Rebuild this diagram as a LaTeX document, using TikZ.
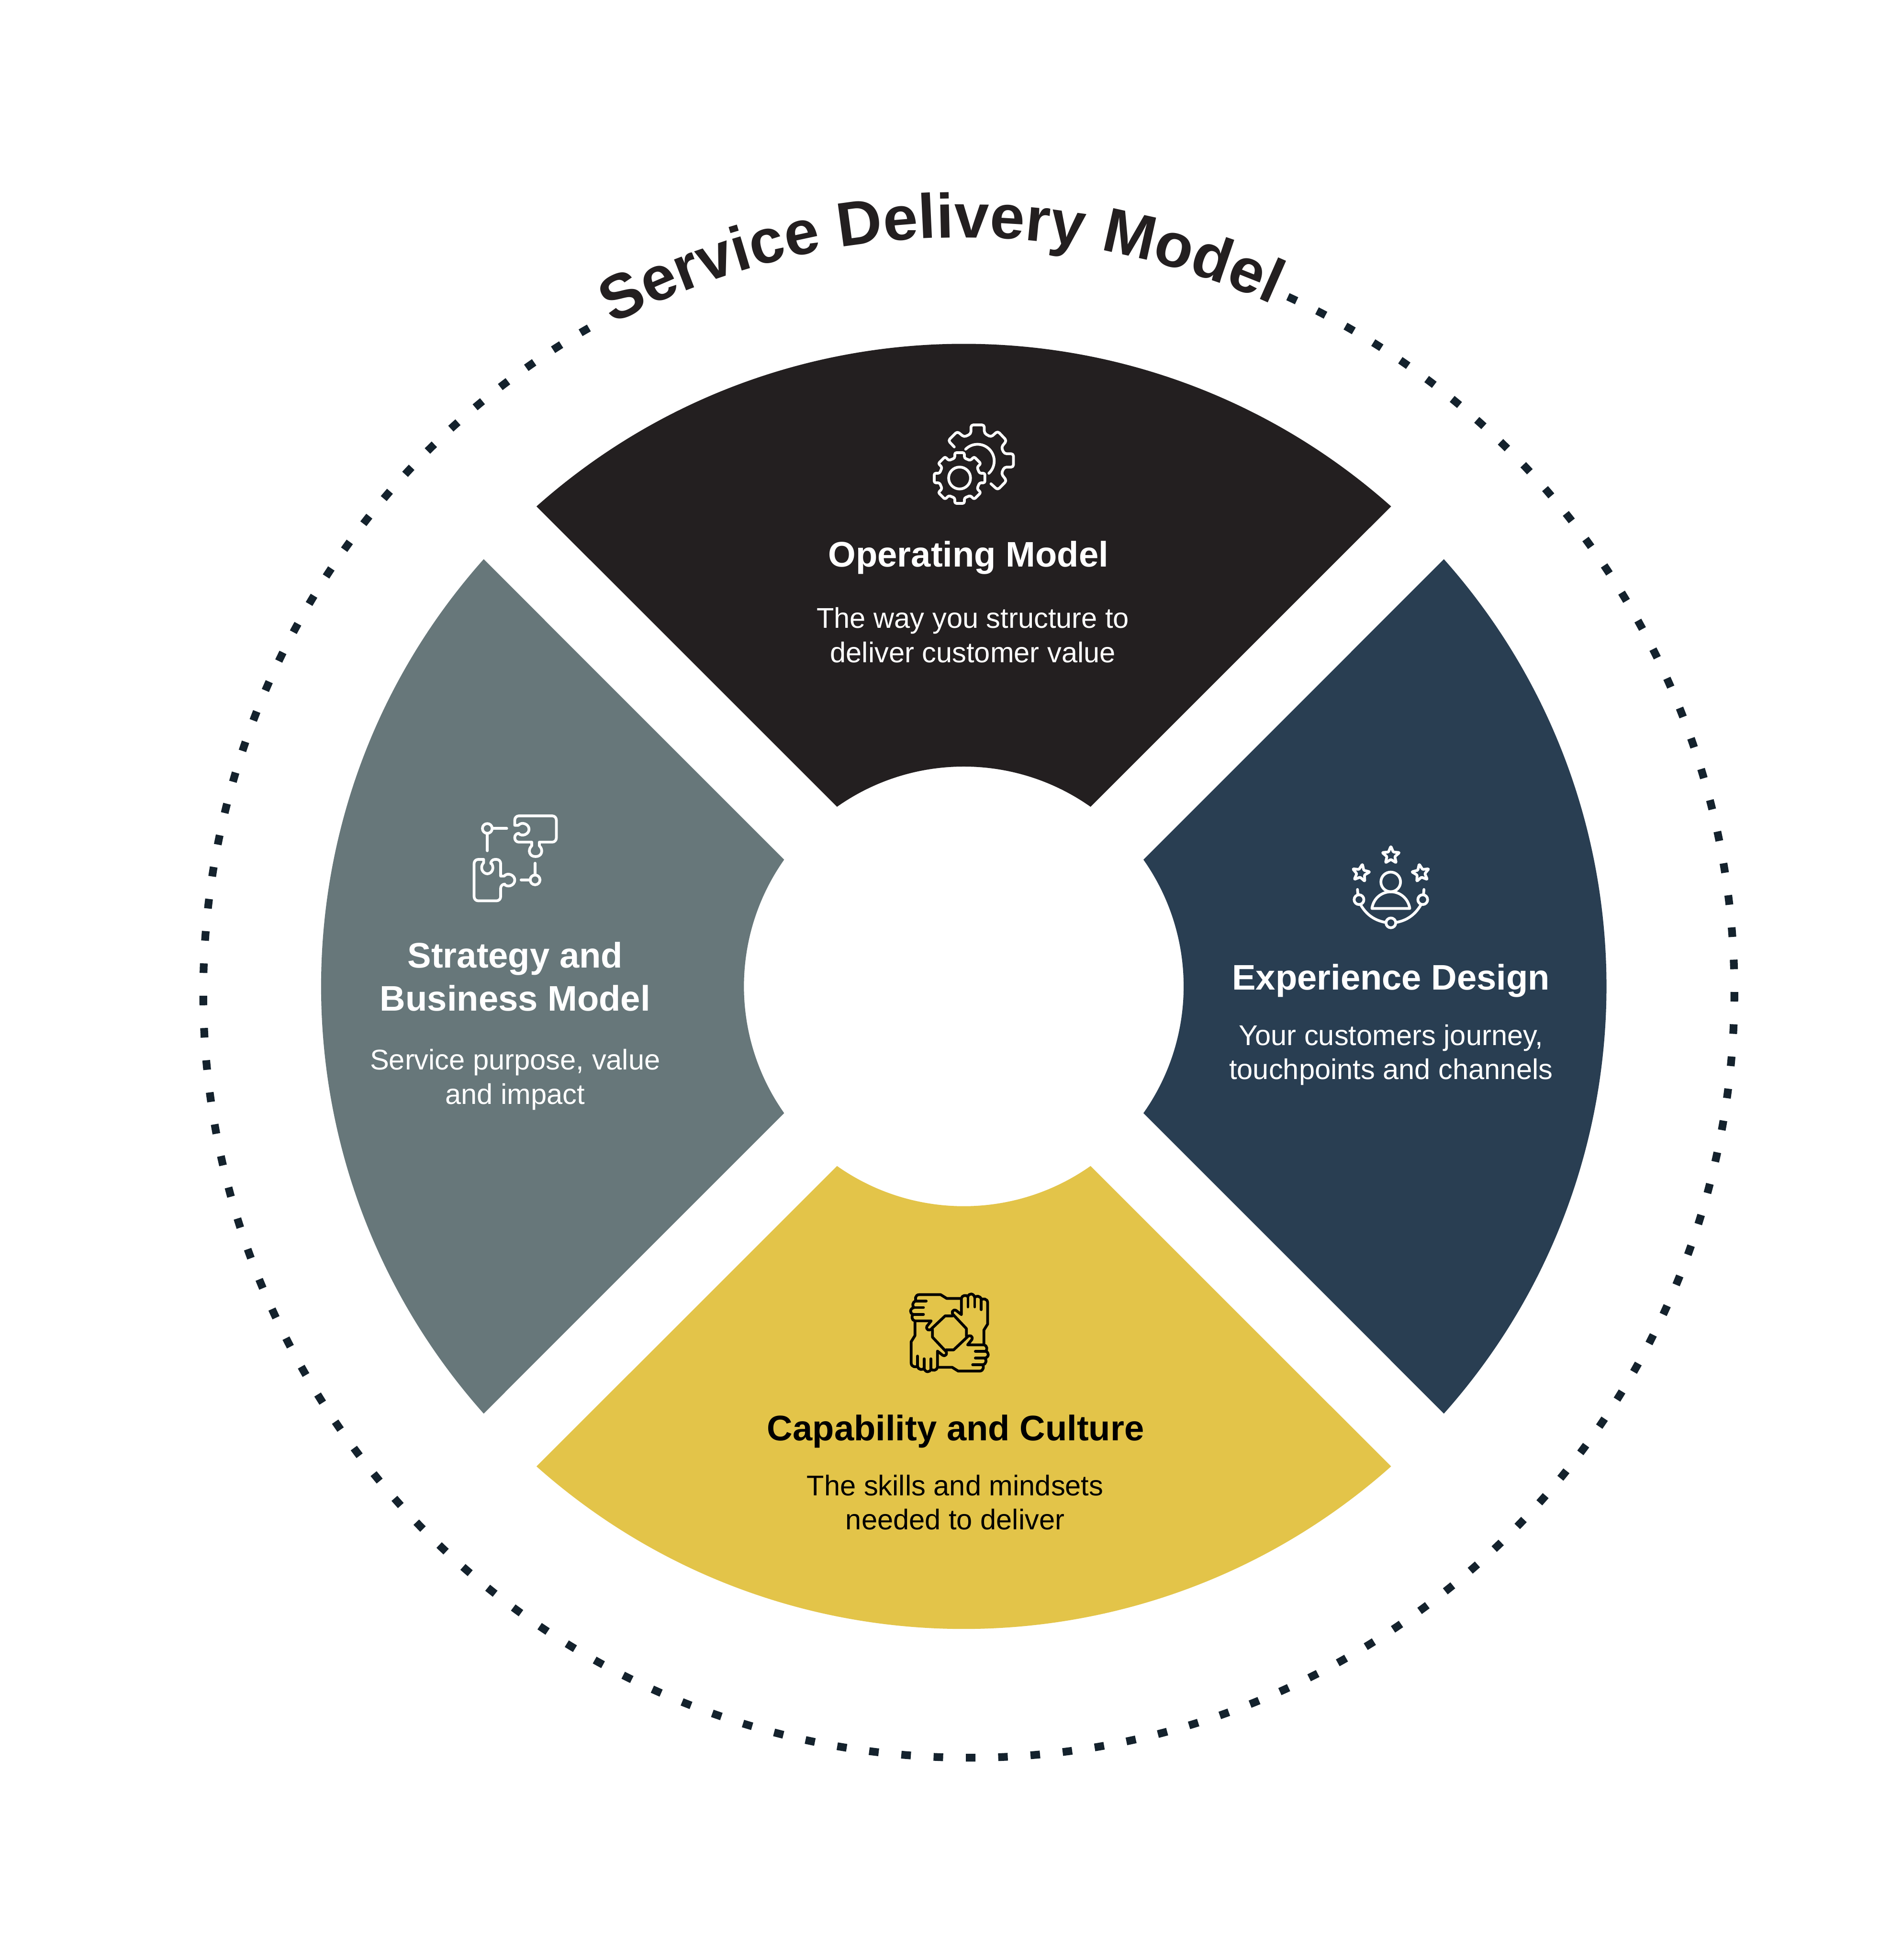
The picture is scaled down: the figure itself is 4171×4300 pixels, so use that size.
\documentclass[tikz,border=0pt]{standalone}
\usepackage{fontspec}
\setmainfont{Liberation Sans}
\usetikzlibrary{decorations.text}
\definecolor{wblack}{HTML}{231F20}
\definecolor{wgrey}{HTML}{67777A}
\definecolor{wnavy}{HTML}{293E52}
\definecolor{wyellow}{HTML}{E3C449}
\definecolor{wdot}{HTML}{14222D}
\newcommand{\wedgeshape}[2]{%
  \fill[#2] ({#1-41.67}:14.09cm) arc[start angle={#1-41.67},end angle={#1+41.67},radius=14.09cm]
    -- ({#1+35.2}:4.82cm) arc[start angle={#1+35.2},end angle={#1-35.2},radius=4.82cm] -- cycle;}
\tikzset{
  headtext/.style={font=\fontsize{22.15pt}{27pt}\selectfont\bfseries,align=center,anchor=base,inner sep=0pt},
  bodytext/.style={font=\fontsize{17.8pt}{21.34pt}\selectfont,align=center,anchor=base,inner sep=0pt},
  icon/.style={line width=0.06cm,line cap=round,line join=round},
  zoomed/.style={x=0.0033333cm,y=-0.0033333cm},
}
\begin{document}
\begin{tikzpicture}[x=0.01cm,y=-0.01cm]
\useasboundingbox (0,0) rectangle (4171,4300);
\fill[white] (0,0) rectangle (4171,4300);

% wedges
\begin{scope}[shift={(2114,2164)}]
  \wedgeshape{90}{wblack}
  \wedgeshape{0}{wnavy}
  \wedgeshape{180}{wgrey}
  \wedgeshape{270}{wyellow}
\end{scope}

% dotted ring
\begin{scope}[shift={(2125,2177)}]
  \draw[wdot,line width=0.17cm,dash pattern=on 0.21cm off 0.4987cm]
    (119.76:16.78cm) arc[start angle=119.76,end angle=426.2,radius=16.78cm];
\end{scope}

% title
\begin{scope}[shift={(2112,2164)}]
  \path[decorate,decoration={text along path,text align=center,
      text={|\fontsize{39.1pt}{44pt}\selectfont\bfseries\color{wblack}|Service Delivery Model}}]
    (119:16.42cm) arc[start angle=119,end angle=64.5,radius=16.42cm];
\end{scope}

% texts
\node[headtext,white] (opHead) at (2124,1244) {Operating Model};
\node[bodytext,white] (opBody) at (2134,1453) {The way you structure to\\deliver customer value};
\node[headtext,white] (stHead) at (1130,2218) {Strategy and\\Business Model};
\node[bodytext,white] (stBody) at (1130,2422) {Service purpose, value\\and impact};
\node[headtext,white] (exHead) at (3051,2172) {Experience Design};
\node[bodytext,white] (exBody) at (3051,2368) {Your customers journey,\\touchpoints and channels};
\node[headtext,black] (caHead) at (2096,3160) {Capability and Culture};
\node[bodytext,black] (caBody) at (2095,3356) {The skills and mindsets\\needed to deliver};

% gears icon
\begin{scope}[shift={(1950,880)},zoomed]
  \draw[icon,white,rounded corners=0.05cm] (430,302) -- (390,260) -- (450,200) -- (495,237) -- (540,215) -- (540,157)
    -- (628,157) -- (628,212) -- (672,237) -- (716,198) -- (775,260) -- (740,305) -- (760,347) -- (820,347)
    -- (820,435) -- (760,435) -- (740,478) -- (775,525) -- (716,585) -- (672,545);
  \draw[icon,white] (505,317) arc[start angle=135,end angle=-47,radius=0.367cm];
  \begin{scope}[shift={(465,507)}]
    \draw[icon,white] (0,0) circle[radius=0.24cm];
    \draw[icon,white,rounded corners=0.035cm] (76.5:0.45cm) -- (79.3:0.565cm) -- (100.7:0.565cm) -- (103.5:0.45cm)
      \foreach \a in {135,180,...,405}{ -- ({\a-13.5}:0.45cm) -- ({\a-10.7}:0.565cm) -- ({\a+10.7}:0.565cm) -- ({\a+13.5}:0.45cm) } -- cycle;
  \end{scope}
\end{scope}

% puzzle icon
\begin{scope}[shift={(980,1740)},zoomed]
  \draw[icon,white] (267,233) circle[radius=0.107cm];
  \draw[icon,white] (300,233) -- (395,233);
  \draw[icon,white] (267,268) -- (267,380);
  \draw[icon,white] (582,572) circle[radius=0.107cm];
  \draw[icon,white] (490,572) -- (548,572);
  \draw[icon,white] (582,462) -- (582,538);
  \draw[icon,white,rounded corners=0.09cm] (448,212) -- (448,150) -- (722,150) -- (722,323) [sharp corners] -- (610,323) -- (610,347)
     .. controls (640,375) and (625,420) .. (585,418) .. controls (545,420) and (530,375) .. (560,347) -- (560,323)
     [rounded corners=0.09cm] -- (448,323) -- (448,265) [sharp corners] -- (472,265) .. controls (495,290) and (542,272) .. (542,238)
     .. controls (542,205) and (495,185) .. (472,212) -- cycle;
  \draw[icon,white,rounded corners=0.09cm] (243,437) -- (180,437) -- (180,710) -- (355,710) -- (355,600) [sharp corners] -- (378,600)
     .. controls (400,625) and (448,610) .. (448,573) .. controls (448,540) and (400,520) .. (378,547) -- (355,547)
     [rounded corners=0.09cm] -- (355,437) -- (290,437) [sharp corners] -- (290,458)
     .. controls (318,490) and (300,530) .. (267,532) .. controls (235,530) and (215,490) .. (243,458) -- cycle;
\end{scope}

% experience icon
\begin{scope}[shift={(2890,1800)},zoomed]
  \foreach \sx/\sy/\rot in {483/230/0,285/347/-10,680/347/10}{
    \begin{scope}[shift={(\sx,\sy)}]
      \draw[icon,white,rounded corners=0.015cm] ({90+\rot}:0.2cm) -- ({126+\rot}:0.09cm)
        \foreach \a in {72,144,216,288}{ -- ({90+\rot+\a}:0.2cm) -- ({126+\rot+\a}:0.09cm) } -- cycle;
    \end{scope}
  }
  \draw[icon,white] (482,405) circle[radius=0.215cm];
  \draw[icon,white] (358,580) .. controls (370,505) and (430,470) .. (483,470) .. controls (535,470) and (595,505) .. (608,580) -- cycle;
  \draw[icon,white] (273,522) circle[radius=0.107cm];
  \draw[icon,white] (693,522) circle[radius=0.107cm];
  \draw[icon,white] (483,675) circle[radius=0.107cm];
  \draw[icon,white] (263,455) -- (266,490);
  \draw[icon,white] (701,455) -- (698,490);
  \draw[icon,white] (285,558) .. controls (325,625) and (380,660) .. (448,672);
  \draw[icon,white] (518,672) .. controls (585,660) and (640,625) .. (680,558);
\end{scope}

% hands icon
\begin{scope}[shift={(1950,2780)},zoomed]
  \foreach \r in {0,90,180,270}{
    \begin{scope}[rotate around={\r:(398,433)}]
      \draw[icon,black] (510,455) -- (510,405) -- (428,318) .. controls (405,300) and (420,275) .. (442,285) -- (477,313)
        -- (477,205) .. controls (480,185) and (510,180) .. (520,195)
        .. controls (525,170) and (558,170) .. (565,200)
        .. controls (570,188) and (605,185) .. (608,215)
        .. controls (615,205) and (650,205) .. (650,235) -- (650,375) -- (625,415) -- (625,505);
      \draw[icon,black] (520,195) -- (520,262);
      \draw[icon,black] (565,200) -- (565,262);
      \draw[icon,black] (608,215) -- (608,280);
    \end{scope}
  }
\end{scope}
\end{tikzpicture}
\end{document}
